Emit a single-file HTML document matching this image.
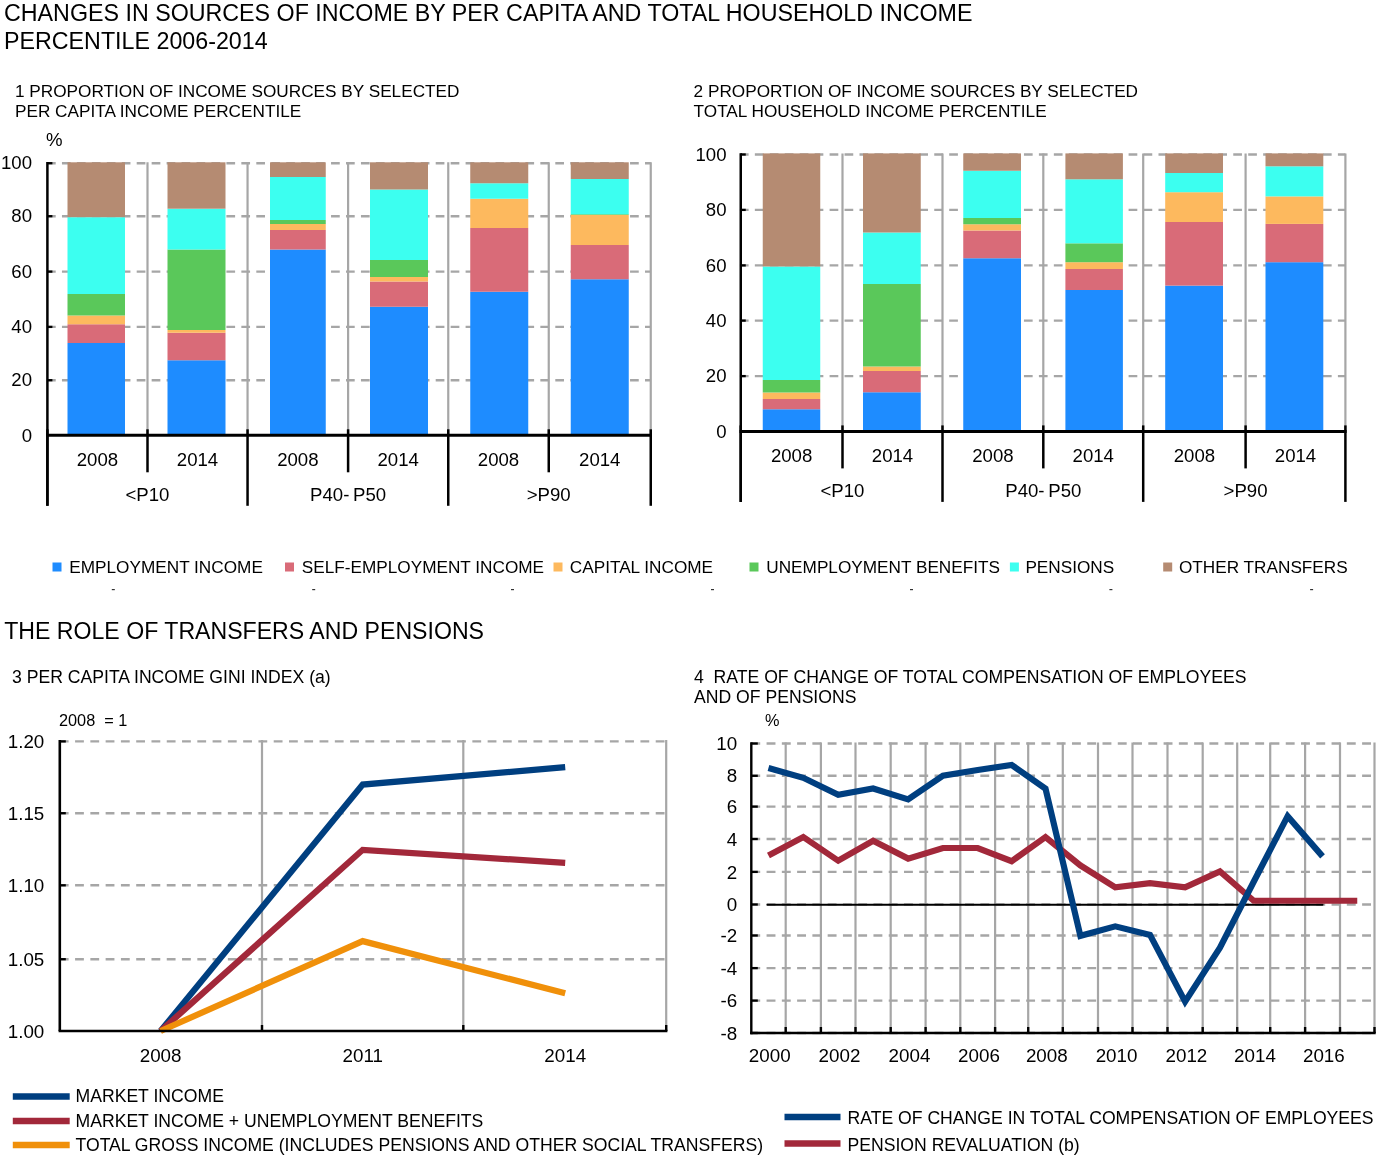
<!DOCTYPE html>
<html><head><meta charset="utf-8"><style>
html,body{margin:0;padding:0;background:#fff;}
svg{display:block;will-change:transform;}
text{font-family:"Liberation Sans", sans-serif;fill:#000;white-space:pre;}
</style></head><body>
<svg width="1377" height="1157" viewBox="0 0 1377 1157">
<rect x="0" y="0" width="1377" height="1157" fill="#fff"/>
<text x="4" y="20.5" font-size="23.25" text-anchor="start">CHANGES IN SOURCES OF INCOME BY PER CAPITA AND TOTAL HOUSEHOLD INCOME</text>
<text x="4" y="48.5" font-size="23.25" text-anchor="start">PERCENTILE 2006-2014</text>
<text x="15" y="97" font-size="17.2" text-anchor="start">1 PROPORTION OF INCOME SOURCES BY SELECTED</text>
<text x="15" y="117" font-size="17.2" text-anchor="start">PER CAPITA INCOME PERCENTILE</text>
<text x="693.6" y="97" font-size="17.2" text-anchor="start">2 PROPORTION OF INCOME SOURCES BY SELECTED</text>
<text x="693.6" y="117" font-size="17.2" text-anchor="start">TOTAL HOUSEHOLD INCOME PERCENTILE</text>
<text x="46" y="145.5" font-size="18.6" text-anchor="start">%</text>
<line x1="47.0" y1="163.2" x2="650.75" y2="163.2" stroke="#a6a6a6" stroke-width="2.4" stroke-dasharray="8.7 6.25"/>
<line x1="47.0" y1="216.2" x2="650.75" y2="216.2" stroke="#a6a6a6" stroke-width="2.4" stroke-dasharray="8.7 6.25"/>
<line x1="47.0" y1="271.6" x2="650.75" y2="271.6" stroke="#a6a6a6" stroke-width="2.4" stroke-dasharray="8.7 6.25"/>
<line x1="47.0" y1="326.9" x2="650.75" y2="326.9" stroke="#a6a6a6" stroke-width="2.4" stroke-dasharray="8.7 6.25"/>
<line x1="47.0" y1="380.2" x2="650.75" y2="380.2" stroke="#a6a6a6" stroke-width="2.4" stroke-dasharray="8.7 6.25"/>
<line x1="147.5" y1="162.3" x2="147.5" y2="435.3" stroke="#a6a6a6" stroke-width="2.2"/>
<line x1="247.55" y1="162.3" x2="247.55" y2="435.3" stroke="#a6a6a6" stroke-width="2.2"/>
<line x1="348.1" y1="162.3" x2="348.1" y2="435.3" stroke="#a6a6a6" stroke-width="2.2"/>
<line x1="448.25" y1="162.3" x2="448.25" y2="435.3" stroke="#a6a6a6" stroke-width="2.2"/>
<line x1="548.75" y1="162.3" x2="548.75" y2="435.3" stroke="#a6a6a6" stroke-width="2.2"/>
<line x1="650.75" y1="162.3" x2="650.75" y2="435.3" stroke="#a6a6a6" stroke-width="2.2"/>
<rect x="67.5" y="343" width="57.5" height="92.30000000000001" fill="#1e8cff"/>
<rect x="67.5" y="324.25" width="57.5" height="18.75" fill="#d96b78"/>
<rect x="67.5" y="315.5" width="57.5" height="8.75" fill="#fdb95e"/>
<rect x="67.5" y="294" width="57.5" height="21.5" fill="#5ac85a"/>
<rect x="67.5" y="217.2" width="57.5" height="76.80000000000001" fill="#3cfff0"/>
<rect x="67.5" y="162.3" width="57.5" height="54.89999999999998" fill="#b58b72"/>
<rect x="167.5" y="360.25" width="58.0" height="75.05000000000001" fill="#1e8cff"/>
<rect x="167.5" y="332.75" width="58.0" height="27.5" fill="#d96b78"/>
<rect x="167.5" y="330" width="58.0" height="2.75" fill="#fdb95e"/>
<rect x="167.5" y="249.5" width="58.0" height="80.5" fill="#5ac85a"/>
<rect x="167.5" y="208.7" width="58.0" height="40.80000000000001" fill="#3cfff0"/>
<rect x="167.5" y="162.3" width="58.0" height="46.39999999999998" fill="#b58b72"/>
<rect x="270" y="249.5" width="55.75" height="185.8" fill="#1e8cff"/>
<rect x="270" y="230" width="55.75" height="19.5" fill="#d96b78"/>
<rect x="270" y="224" width="55.75" height="6" fill="#fdb95e"/>
<rect x="270" y="220" width="55.75" height="4" fill="#5ac85a"/>
<rect x="270" y="177" width="55.75" height="43" fill="#3cfff0"/>
<rect x="270" y="162.3" width="55.75" height="14.699999999999989" fill="#b58b72"/>
<rect x="370" y="306.75" width="58" height="128.55" fill="#1e8cff"/>
<rect x="370" y="281.5" width="58" height="25.25" fill="#d96b78"/>
<rect x="370" y="277" width="58" height="4.5" fill="#fdb95e"/>
<rect x="370" y="260" width="58" height="17" fill="#5ac85a"/>
<rect x="370" y="189.5" width="58" height="70.5" fill="#3cfff0"/>
<rect x="370" y="162.3" width="58" height="27.19999999999999" fill="#b58b72"/>
<rect x="470.25" y="291.75" width="58.0" height="143.55" fill="#1e8cff"/>
<rect x="470.25" y="228" width="58.0" height="63.75" fill="#d96b78"/>
<rect x="470.25" y="198.75" width="58.0" height="29.25" fill="#fdb95e"/>
<rect x="470.25" y="183.25" width="58.0" height="15.5" fill="#3cfff0"/>
<rect x="470.25" y="162.3" width="58.0" height="20.94999999999999" fill="#b58b72"/>
<rect x="570.75" y="279.25" width="58.0" height="156.05" fill="#1e8cff"/>
<rect x="570.75" y="245" width="58.0" height="34.25" fill="#d96b78"/>
<rect x="570.75" y="215" width="58.0" height="30" fill="#fdb95e"/>
<rect x="570.75" y="214.25" width="58.0" height="0.75" fill="#5ac85a"/>
<rect x="570.75" y="179" width="58.0" height="35.25" fill="#3cfff0"/>
<rect x="570.75" y="162.3" width="58.0" height="16.69999999999999" fill="#b58b72"/>
<line x1="47.4" y1="162.10000000000002" x2="47.4" y2="505.8" stroke="#000" stroke-width="2.5"/>
<line x1="47.4" y1="163.2" x2="52.4" y2="163.2" stroke="#000" stroke-width="2.3"/>
<line x1="47.4" y1="216.2" x2="52.4" y2="216.2" stroke="#000" stroke-width="2.3"/>
<line x1="47.4" y1="271.6" x2="52.4" y2="271.6" stroke="#000" stroke-width="2.3"/>
<line x1="47.4" y1="326.9" x2="52.4" y2="326.9" stroke="#000" stroke-width="2.3"/>
<line x1="47.4" y1="380.2" x2="52.4" y2="380.2" stroke="#000" stroke-width="2.3"/>
<line x1="46.199999999999996" y1="435.3" x2="651.95" y2="435.3" stroke="#000" stroke-width="3"/>
<line x1="47.4" y1="429.3" x2="47.4" y2="505.8" stroke="#000" stroke-width="2.5"/>
<line x1="147.5" y1="429.3" x2="147.5" y2="472.3" stroke="#000" stroke-width="2.5"/>
<line x1="247.55" y1="429.3" x2="247.55" y2="505.8" stroke="#000" stroke-width="2.5"/>
<line x1="348.1" y1="429.3" x2="348.1" y2="472.3" stroke="#000" stroke-width="2.5"/>
<line x1="448.25" y1="429.3" x2="448.25" y2="505.8" stroke="#000" stroke-width="2.5"/>
<line x1="548.75" y1="429.3" x2="548.75" y2="472.3" stroke="#000" stroke-width="2.5"/>
<line x1="650.75" y1="429.3" x2="650.75" y2="505.8" stroke="#000" stroke-width="2.5"/>
<text x="32" y="169.39999999999998" font-size="18.6" text-anchor="end">100</text>
<text x="32" y="222.39999999999998" font-size="18.6" text-anchor="end">80</text>
<text x="32" y="277.8" font-size="18.6" text-anchor="end">60</text>
<text x="32" y="333.09999999999997" font-size="18.6" text-anchor="end">40</text>
<text x="32" y="386.4" font-size="18.6" text-anchor="end">20</text>
<text x="32" y="441.5" font-size="18.6" text-anchor="end">0</text>
<text x="97.45" y="466.3" font-size="18.6" text-anchor="middle">2008</text>
<text x="197.525" y="466.3" font-size="18.6" text-anchor="middle">2014</text>
<text x="297.82500000000005" y="466.3" font-size="18.6" text-anchor="middle">2008</text>
<text x="398.175" y="466.3" font-size="18.6" text-anchor="middle">2014</text>
<text x="498.5" y="466.3" font-size="18.6" text-anchor="middle">2008</text>
<text x="599.75" y="466.3" font-size="18.6" text-anchor="middle">2014</text>
<text x="147.5" y="501.3" font-size="18.6" text-anchor="middle">&lt;P10</text>
<text x="348.1" y="501.3" font-size="18.6" text-anchor="middle">P40- P50</text>
<text x="548.75" y="501.3" font-size="18.6" text-anchor="middle">&gt;P90</text>
<line x1="739.9" y1="154.5" x2="1345.4" y2="154.5" stroke="#a6a6a6" stroke-width="2.4" stroke-dasharray="8.7 6.25"/>
<line x1="739.9" y1="209.9" x2="1345.4" y2="209.9" stroke="#a6a6a6" stroke-width="2.4" stroke-dasharray="8.7 6.25"/>
<line x1="739.9" y1="265.4" x2="1345.4" y2="265.4" stroke="#a6a6a6" stroke-width="2.4" stroke-dasharray="8.7 6.25"/>
<line x1="739.9" y1="320.6" x2="1345.4" y2="320.6" stroke="#a6a6a6" stroke-width="2.4" stroke-dasharray="8.7 6.25"/>
<line x1="739.9" y1="376.1" x2="1345.4" y2="376.1" stroke="#a6a6a6" stroke-width="2.4" stroke-dasharray="8.7 6.25"/>
<line x1="842.5" y1="153.5" x2="842.5" y2="431.4" stroke="#a6a6a6" stroke-width="2.2"/>
<line x1="942.5" y1="153.5" x2="942.5" y2="431.4" stroke="#a6a6a6" stroke-width="2.2"/>
<line x1="1043.3" y1="153.5" x2="1043.3" y2="431.4" stroke="#a6a6a6" stroke-width="2.2"/>
<line x1="1143.2" y1="153.5" x2="1143.2" y2="431.4" stroke="#a6a6a6" stroke-width="2.2"/>
<line x1="1245.6" y1="153.5" x2="1245.6" y2="431.4" stroke="#a6a6a6" stroke-width="2.2"/>
<line x1="1345.4" y1="153.5" x2="1345.4" y2="431.4" stroke="#a6a6a6" stroke-width="2.2"/>
<rect x="762.75" y="409.25" width="57.5" height="22.149999999999977" fill="#1e8cff"/>
<rect x="762.75" y="399" width="57.5" height="10.25" fill="#d96b78"/>
<rect x="762.75" y="392.5" width="57.5" height="6.5" fill="#fdb95e"/>
<rect x="762.75" y="380" width="57.5" height="12.5" fill="#5ac85a"/>
<rect x="762.75" y="266.5" width="57.5" height="113.5" fill="#3cfff0"/>
<rect x="762.75" y="153.4" width="57.5" height="113.1" fill="#b58b72"/>
<rect x="863" y="392.25" width="57.75" height="39.14999999999998" fill="#1e8cff"/>
<rect x="863" y="371" width="57.75" height="21.25" fill="#d96b78"/>
<rect x="863" y="366.5" width="57.75" height="4.5" fill="#fdb95e"/>
<rect x="863" y="284" width="57.75" height="82.5" fill="#5ac85a"/>
<rect x="863" y="232.5" width="57.75" height="51.5" fill="#3cfff0"/>
<rect x="863" y="153.4" width="57.75" height="79.1" fill="#b58b72"/>
<rect x="963.25" y="258.25" width="57.75" height="173.14999999999998" fill="#1e8cff"/>
<rect x="963.25" y="230.5" width="57.75" height="27.75" fill="#d96b78"/>
<rect x="963.25" y="224.25" width="57.75" height="6.25" fill="#fdb95e"/>
<rect x="963.25" y="218" width="57.75" height="6.25" fill="#5ac85a"/>
<rect x="963.25" y="170.75" width="57.75" height="47.25" fill="#3cfff0"/>
<rect x="963.25" y="153.4" width="57.75" height="17.349999999999994" fill="#b58b72"/>
<rect x="1065.4" y="290" width="57.5" height="141.39999999999998" fill="#1e8cff"/>
<rect x="1065.4" y="269" width="57.5" height="21" fill="#d96b78"/>
<rect x="1065.4" y="262.2" width="57.5" height="6.800000000000011" fill="#fdb95e"/>
<rect x="1065.4" y="243.3" width="57.5" height="18.899999999999977" fill="#5ac85a"/>
<rect x="1065.4" y="179.3" width="57.5" height="64.0" fill="#3cfff0"/>
<rect x="1065.4" y="153.4" width="57.5" height="25.900000000000006" fill="#b58b72"/>
<rect x="1165.2" y="285.6" width="57.799999999999955" height="145.79999999999995" fill="#1e8cff"/>
<rect x="1165.2" y="222" width="57.799999999999955" height="63.60000000000002" fill="#d96b78"/>
<rect x="1165.2" y="192.2" width="57.799999999999955" height="29.80000000000001" fill="#fdb95e"/>
<rect x="1165.2" y="173" width="57.799999999999955" height="19.19999999999999" fill="#3cfff0"/>
<rect x="1165.2" y="153.4" width="57.799999999999955" height="19.599999999999994" fill="#b58b72"/>
<rect x="1265.5" y="262.2" width="57.799999999999955" height="169.2" fill="#1e8cff"/>
<rect x="1265.5" y="223.9" width="57.799999999999955" height="38.29999999999998" fill="#d96b78"/>
<rect x="1265.5" y="196.4" width="57.799999999999955" height="27.5" fill="#fdb95e"/>
<rect x="1265.5" y="166.3" width="57.799999999999955" height="30.099999999999994" fill="#3cfff0"/>
<rect x="1265.5" y="153.4" width="57.799999999999955" height="12.900000000000006" fill="#b58b72"/>
<line x1="740.75" y1="153.3" x2="740.75" y2="501.9" stroke="#000" stroke-width="2.5"/>
<line x1="740.75" y1="154.5" x2="745.75" y2="154.5" stroke="#000" stroke-width="2.3"/>
<line x1="740.75" y1="209.9" x2="745.75" y2="209.9" stroke="#000" stroke-width="2.3"/>
<line x1="740.75" y1="265.4" x2="745.75" y2="265.4" stroke="#000" stroke-width="2.3"/>
<line x1="740.75" y1="320.6" x2="745.75" y2="320.6" stroke="#000" stroke-width="2.3"/>
<line x1="740.75" y1="376.1" x2="745.75" y2="376.1" stroke="#000" stroke-width="2.3"/>
<line x1="739.55" y1="431.4" x2="1346.6000000000001" y2="431.4" stroke="#000" stroke-width="3"/>
<line x1="740.75" y1="425.4" x2="740.75" y2="501.9" stroke="#000" stroke-width="2.5"/>
<line x1="842.5" y1="425.4" x2="842.5" y2="468.4" stroke="#000" stroke-width="2.5"/>
<line x1="942.5" y1="425.4" x2="942.5" y2="501.9" stroke="#000" stroke-width="2.5"/>
<line x1="1043.3" y1="425.4" x2="1043.3" y2="468.4" stroke="#000" stroke-width="2.5"/>
<line x1="1143.2" y1="425.4" x2="1143.2" y2="501.9" stroke="#000" stroke-width="2.5"/>
<line x1="1245.6" y1="425.4" x2="1245.6" y2="468.4" stroke="#000" stroke-width="2.5"/>
<line x1="1345.4" y1="425.4" x2="1345.4" y2="501.9" stroke="#000" stroke-width="2.5"/>
<text x="726.5" y="160.7" font-size="18.6" text-anchor="end">100</text>
<text x="726.5" y="216.1" font-size="18.6" text-anchor="end">80</text>
<text x="726.5" y="271.59999999999997" font-size="18.6" text-anchor="end">60</text>
<text x="726.5" y="326.8" font-size="18.6" text-anchor="end">40</text>
<text x="726.5" y="382.3" font-size="18.6" text-anchor="end">20</text>
<text x="726.5" y="437.59999999999997" font-size="18.6" text-anchor="end">0</text>
<text x="791.625" y="462.4" font-size="18.6" text-anchor="middle">2008</text>
<text x="892.5" y="462.4" font-size="18.6" text-anchor="middle">2014</text>
<text x="992.9" y="462.4" font-size="18.6" text-anchor="middle">2008</text>
<text x="1093.25" y="462.4" font-size="18.6" text-anchor="middle">2014</text>
<text x="1194.4" y="462.4" font-size="18.6" text-anchor="middle">2008</text>
<text x="1295.5" y="462.4" font-size="18.6" text-anchor="middle">2014</text>
<text x="842.5" y="497.4" font-size="18.6" text-anchor="middle">&lt;P10</text>
<text x="1043.3" y="497.4" font-size="18.6" text-anchor="middle">P40- P50</text>
<text x="1245.6" y="497.4" font-size="18.6" text-anchor="middle">&gt;P90</text>
<rect x="52.5" y="562.5" width="9" height="9" fill="#1e8cff"/>
<text x="69.3" y="573" font-size="17.2" text-anchor="start">EMPLOYMENT INCOME</text>
<rect x="285" y="562.5" width="9" height="9" fill="#d96b78"/>
<text x="301.8" y="573" font-size="17.2" text-anchor="start">SELF-EMPLOYMENT INCOME</text>
<rect x="553.5" y="562.5" width="9" height="9" fill="#fdb95e"/>
<text x="569.8" y="573" font-size="17.2" text-anchor="start">CAPITAL INCOME</text>
<rect x="749.5" y="562.5" width="9" height="9" fill="#5ac85a"/>
<text x="766.3" y="573" font-size="17.2" text-anchor="start">UNEMPLOYMENT BENEFITS</text>
<rect x="1009.9" y="562.5" width="9" height="9" fill="#3cfff0"/>
<text x="1025.3999999999999" y="573" font-size="17.2" text-anchor="start">PENSIONS</text>
<rect x="1163.2" y="562.5" width="9" height="9" fill="#b58b72"/>
<text x="1179.0" y="573" font-size="17.2" text-anchor="start">OTHER TRANSFERS</text>
<rect x="111.8" y="589" width="3" height="1.2" fill="#333"/>
<rect x="312.2" y="589" width="3" height="1.2" fill="#333"/>
<rect x="511.0" y="589" width="3" height="1.2" fill="#333"/>
<rect x="711.0" y="589" width="3" height="1.2" fill="#333"/>
<rect x="910.0" y="589" width="3" height="1.2" fill="#333"/>
<rect x="1109.4" y="589" width="3" height="1.2" fill="#333"/>
<rect x="1310.1" y="589" width="3" height="1.2" fill="#333"/>
<text x="4.2" y="638.8" font-size="23.12" text-anchor="start">THE ROLE OF TRANSFERS AND PENSIONS</text>
<text x="12" y="683" font-size="17.62" text-anchor="start">3 PER CAPITA INCOME GINI INDEX (a)</text>
<text x="59" y="725.8" font-size="16.3" text-anchor="start">2008  = 1</text>
<text x="694" y="682.5" font-size="17.62" text-anchor="start">4  RATE OF CHANGE OF TOTAL COMPENSATION OF EMPLOYEES</text>
<text x="694" y="703.3" font-size="17.62" text-anchor="start">AND OF PENSIONS</text>
<text x="765" y="726.2" font-size="16.3" text-anchor="start">%</text>
<line x1="59.8" y1="741.4" x2="666.2" y2="741.4" stroke="#a6a6a6" stroke-width="2.4" stroke-dasharray="8.8 6.48"/>
<line x1="59.8" y1="813.2" x2="666.2" y2="813.2" stroke="#a6a6a6" stroke-width="2.4" stroke-dasharray="8.8 6.48"/>
<line x1="59.8" y1="885.3" x2="666.2" y2="885.3" stroke="#a6a6a6" stroke-width="2.4" stroke-dasharray="8.8 6.48"/>
<line x1="59.8" y1="959.2" x2="666.2" y2="959.2" stroke="#a6a6a6" stroke-width="2.4" stroke-dasharray="8.8 6.48"/>
<line x1="262.0" y1="740.1" x2="262.0" y2="1031" stroke="#a6a6a6" stroke-width="2.2"/>
<line x1="463.3" y1="740.1" x2="463.3" y2="1031" stroke="#a6a6a6" stroke-width="2.2"/>
<line x1="666.2" y1="740.1" x2="666.2" y2="1031" stroke="#a6a6a6" stroke-width="2.2"/>
<polyline points="160.6,1031.00 362.7,784.59 565.2,767.19" fill="none" stroke="#003f80" stroke-width="6.2" stroke-linejoin="miter"/>
<polyline points="160.6,1031.00 362.7,849.81 565.2,862.86" fill="none" stroke="#a2283a" stroke-width="6.2" stroke-linejoin="miter"/>
<polyline points="160.6,1031.00 362.7,941.13 565.2,993.31" fill="none" stroke="#f0900a" stroke-width="6.2" stroke-linejoin="miter"/>
<line x1="59.8" y1="739.9" x2="59.8" y2="1031" stroke="#000" stroke-width="2.6"/>
<line x1="59.8" y1="741.4" x2="65.8" y2="741.4" stroke="#000" stroke-width="2.3"/>
<line x1="59.8" y1="813.2" x2="65.8" y2="813.2" stroke="#000" stroke-width="2.3"/>
<line x1="59.8" y1="885.3" x2="65.8" y2="885.3" stroke="#000" stroke-width="2.3"/>
<line x1="59.8" y1="959.2" x2="65.8" y2="959.2" stroke="#000" stroke-width="2.3"/>
<line x1="58.599999999999994" y1="1031" x2="667.4000000000001" y2="1031" stroke="#000" stroke-width="2.6"/>
<line x1="262.0" y1="1025" x2="262.0" y2="1031" stroke="#000" stroke-width="2.4"/>
<line x1="463.3" y1="1025" x2="463.3" y2="1031" stroke="#000" stroke-width="2.4"/>
<line x1="666.2" y1="1025" x2="666.2" y2="1031" stroke="#000" stroke-width="2.4"/>
<text x="44.3" y="748.0" font-size="18.8" text-anchor="end">1.20</text>
<text x="44.3" y="819.8000000000001" font-size="18.8" text-anchor="end">1.15</text>
<text x="44.3" y="891.9" font-size="18.8" text-anchor="end">1.10</text>
<text x="44.3" y="965.8000000000001" font-size="18.8" text-anchor="end">1.05</text>
<text x="44.3" y="1037.6" font-size="18.8" text-anchor="end">1.00</text>
<text x="160.6" y="1062" font-size="18.8" text-anchor="middle">2008</text>
<text x="362.7" y="1062" font-size="18.8" text-anchor="middle">2011</text>
<text x="565.2" y="1062" font-size="18.8" text-anchor="middle">2014</text>
<line x1="12.8" y1="1096.5" x2="69.7" y2="1096.5" stroke="#003f80" stroke-width="6.5"/>
<text x="75.5" y="1102.3" font-size="17.62" text-anchor="start">MARKET INCOME</text>
<line x1="12.8" y1="1120.9" x2="69.7" y2="1120.9" stroke="#a2283a" stroke-width="6.5"/>
<text x="75.5" y="1127.3" font-size="17.62" text-anchor="start">MARKET INCOME + UNEMPLOYMENT BENEFITS</text>
<line x1="12.8" y1="1145" x2="69.7" y2="1145" stroke="#f0900a" stroke-width="6.5"/>
<text x="75.5" y="1151.3" font-size="17.62" text-anchor="start">TOTAL GROSS INCOME (INCLUDES PENSIONS AND OTHER SOCIAL TRANSFERS)</text>
<line x1="751.3" y1="743.5" x2="1374.5" y2="743.5" stroke="#a6a6a6" stroke-width="2.4" stroke-dasharray="8.9 6.37"/>
<line x1="751.3" y1="775.8" x2="1374.5" y2="775.8" stroke="#a6a6a6" stroke-width="2.4" stroke-dasharray="8.9 6.37"/>
<line x1="751.3" y1="806.6" x2="1374.5" y2="806.6" stroke="#a6a6a6" stroke-width="2.4" stroke-dasharray="8.9 6.37"/>
<line x1="751.3" y1="839.0" x2="1374.5" y2="839.0" stroke="#a6a6a6" stroke-width="2.4" stroke-dasharray="8.9 6.37"/>
<line x1="751.3" y1="871.9" x2="1374.5" y2="871.9" stroke="#a6a6a6" stroke-width="2.4" stroke-dasharray="8.9 6.37"/>
<line x1="751.3" y1="904.5" x2="1374.5" y2="904.5" stroke="#a6a6a6" stroke-width="2.4" stroke-dasharray="8.9 6.37"/>
<line x1="751.3" y1="935.5" x2="1374.5" y2="935.5" stroke="#a6a6a6" stroke-width="2.4" stroke-dasharray="8.9 6.37"/>
<line x1="751.3" y1="968.1" x2="1374.5" y2="968.1" stroke="#a6a6a6" stroke-width="2.4" stroke-dasharray="8.9 6.37"/>
<line x1="751.3" y1="1000.6" x2="1374.5" y2="1000.6" stroke="#a6a6a6" stroke-width="2.4" stroke-dasharray="8.9 6.37"/>
<line x1="751.3" y1="1033.0" x2="1374.5" y2="1033.0" stroke="#a6a6a6" stroke-width="2.4" stroke-dasharray="8.9 6.37"/>
<line x1="785.7" y1="742.4" x2="785.7" y2="1033.0" stroke="#a6a6a6" stroke-width="2.2"/>
<line x1="820.9" y1="742.4" x2="820.9" y2="1033.0" stroke="#a6a6a6" stroke-width="2.2"/>
<line x1="855.5" y1="742.4" x2="855.5" y2="1033.0" stroke="#a6a6a6" stroke-width="2.2"/>
<line x1="890.7" y1="742.4" x2="890.7" y2="1033.0" stroke="#a6a6a6" stroke-width="2.2"/>
<line x1="925.6" y1="742.4" x2="925.6" y2="1033.0" stroke="#a6a6a6" stroke-width="2.2"/>
<line x1="960.3" y1="742.4" x2="960.3" y2="1033.0" stroke="#a6a6a6" stroke-width="2.2"/>
<line x1="995.1" y1="742.4" x2="995.1" y2="1033.0" stroke="#a6a6a6" stroke-width="2.2"/>
<line x1="1028.2" y1="742.4" x2="1028.2" y2="1033.0" stroke="#a6a6a6" stroke-width="2.2"/>
<line x1="1062.8" y1="742.4" x2="1062.8" y2="1033.0" stroke="#a6a6a6" stroke-width="2.2"/>
<line x1="1098.0" y1="742.4" x2="1098.0" y2="1033.0" stroke="#a6a6a6" stroke-width="2.2"/>
<line x1="1132.5" y1="742.4" x2="1132.5" y2="1033.0" stroke="#a6a6a6" stroke-width="2.2"/>
<line x1="1167.5" y1="742.4" x2="1167.5" y2="1033.0" stroke="#a6a6a6" stroke-width="2.2"/>
<line x1="1202.7" y1="742.4" x2="1202.7" y2="1033.0" stroke="#a6a6a6" stroke-width="2.2"/>
<line x1="1237.2" y1="742.4" x2="1237.2" y2="1033.0" stroke="#a6a6a6" stroke-width="2.2"/>
<line x1="1270.2" y1="742.4" x2="1270.2" y2="1033.0" stroke="#a6a6a6" stroke-width="2.2"/>
<line x1="1305.1" y1="742.4" x2="1305.1" y2="1033.0" stroke="#a6a6a6" stroke-width="2.2"/>
<line x1="1340.0" y1="742.4" x2="1340.0" y2="1033.0" stroke="#a6a6a6" stroke-width="2.2"/>
<line x1="1374.5" y1="742.4" x2="1374.5" y2="1033.0" stroke="#a6a6a6" stroke-width="2.2"/>
<line x1="767.45" y1="904.6999999999999" x2="1322.55" y2="904.6999999999999" stroke="#000" stroke-width="2.0" stroke-linecap="round"/>
<polyline points="768.45,855.55 803.30,837.04 838.20,860.70 873.10,840.74 908.15,858.60 942.95,847.99 977.70,847.99 1011.65,861.18 1045.50,837.04 1080.40,865.36 1115.25,887.41 1150.00,883.06 1185.10,887.41 1219.95,871.32 1253.70,900.76 1287.65,900.76 1322.55,900.76 1357.25,900.76" fill="none" stroke="#a2283a" stroke-width="6.2" stroke-linejoin="miter"/>
<polyline points="768.45,768.02 803.30,777.83 838.20,794.89 873.10,788.45 908.15,799.39 942.95,775.74 977.70,769.95 1011.65,764.96 1045.50,788.61 1080.40,935.84 1115.25,926.34 1150.00,934.87 1185.10,1001.64 1219.95,947.74 1253.70,881.77 1287.65,816.13 1322.55,856.35" fill="none" stroke="#003f80" stroke-width="6.2" stroke-linejoin="miter"/>
<line x1="751.3" y1="742.1999999999999" x2="751.3" y2="1034.2" stroke="#000" stroke-width="2.4"/>
<line x1="751.3" y1="743.5" x2="757.8" y2="743.5" stroke="#000" stroke-width="2.3"/>
<line x1="751.3" y1="775.8" x2="757.8" y2="775.8" stroke="#000" stroke-width="2.3"/>
<line x1="751.3" y1="806.6" x2="757.8" y2="806.6" stroke="#000" stroke-width="2.3"/>
<line x1="751.3" y1="839.0" x2="757.8" y2="839.0" stroke="#000" stroke-width="2.3"/>
<line x1="751.3" y1="871.9" x2="757.8" y2="871.9" stroke="#000" stroke-width="2.3"/>
<line x1="751.3" y1="904.5" x2="757.8" y2="904.5" stroke="#000" stroke-width="2.3"/>
<line x1="751.3" y1="935.5" x2="757.8" y2="935.5" stroke="#000" stroke-width="2.3"/>
<line x1="751.3" y1="968.1" x2="757.8" y2="968.1" stroke="#000" stroke-width="2.3"/>
<line x1="751.3" y1="1000.6" x2="757.8" y2="1000.6" stroke="#000" stroke-width="2.3"/>
<line x1="751.3" y1="1033.0" x2="757.8" y2="1033.0" stroke="#000" stroke-width="2.3"/>
<line x1="750.0999999999999" y1="1033.0" x2="1375.7" y2="1033.0" stroke="#000" stroke-width="2.6"/>
<line x1="785.7" y1="1027.0" x2="785.7" y2="1033.0" stroke="#000" stroke-width="2.4"/>
<line x1="820.9" y1="1027.0" x2="820.9" y2="1033.0" stroke="#000" stroke-width="2.4"/>
<line x1="855.5" y1="1027.0" x2="855.5" y2="1033.0" stroke="#000" stroke-width="2.4"/>
<line x1="890.7" y1="1027.0" x2="890.7" y2="1033.0" stroke="#000" stroke-width="2.4"/>
<line x1="925.6" y1="1027.0" x2="925.6" y2="1033.0" stroke="#000" stroke-width="2.4"/>
<line x1="960.3" y1="1027.0" x2="960.3" y2="1033.0" stroke="#000" stroke-width="2.4"/>
<line x1="995.1" y1="1027.0" x2="995.1" y2="1033.0" stroke="#000" stroke-width="2.4"/>
<line x1="1028.2" y1="1027.0" x2="1028.2" y2="1033.0" stroke="#000" stroke-width="2.4"/>
<line x1="1062.8" y1="1027.0" x2="1062.8" y2="1033.0" stroke="#000" stroke-width="2.4"/>
<line x1="1098.0" y1="1027.0" x2="1098.0" y2="1033.0" stroke="#000" stroke-width="2.4"/>
<line x1="1132.5" y1="1027.0" x2="1132.5" y2="1033.0" stroke="#000" stroke-width="2.4"/>
<line x1="1167.5" y1="1027.0" x2="1167.5" y2="1033.0" stroke="#000" stroke-width="2.4"/>
<line x1="1202.7" y1="1027.0" x2="1202.7" y2="1033.0" stroke="#000" stroke-width="2.4"/>
<line x1="1237.2" y1="1027.0" x2="1237.2" y2="1033.0" stroke="#000" stroke-width="2.4"/>
<line x1="1270.2" y1="1027.0" x2="1270.2" y2="1033.0" stroke="#000" stroke-width="2.4"/>
<line x1="1305.1" y1="1027.0" x2="1305.1" y2="1033.0" stroke="#000" stroke-width="2.4"/>
<line x1="1340.0" y1="1027.0" x2="1340.0" y2="1033.0" stroke="#000" stroke-width="2.4"/>
<line x1="1374.5" y1="1027.0" x2="1374.5" y2="1033.0" stroke="#000" stroke-width="2.4"/>
<text x="737.2" y="750.1" font-size="18.8" text-anchor="end">10</text>
<text x="737.2" y="782.4" font-size="18.8" text-anchor="end">8</text>
<text x="737.2" y="813.2" font-size="18.8" text-anchor="end">6</text>
<text x="737.2" y="845.6" font-size="18.8" text-anchor="end">4</text>
<text x="737.2" y="878.5" font-size="18.8" text-anchor="end">2</text>
<text x="737.2" y="911.1" font-size="18.8" text-anchor="end">0</text>
<text x="737.2" y="942.1" font-size="18.8" text-anchor="end">-2</text>
<text x="737.2" y="974.7" font-size="18.8" text-anchor="end">-4</text>
<text x="737.2" y="1007.2" font-size="18.8" text-anchor="end">-6</text>
<text x="737.2" y="1039.6" font-size="18.8" text-anchor="end">-8</text>
<text x="769.75" y="1062.3" font-size="18.8" text-anchor="middle">2000</text>
<text x="839.5" y="1062.3" font-size="18.8" text-anchor="middle">2002</text>
<text x="909.45" y="1062.3" font-size="18.8" text-anchor="middle">2004</text>
<text x="979.0" y="1062.3" font-size="18.8" text-anchor="middle">2006</text>
<text x="1046.8" y="1062.3" font-size="18.8" text-anchor="middle">2008</text>
<text x="1116.55" y="1062.3" font-size="18.8" text-anchor="middle">2010</text>
<text x="1186.3999999999999" y="1062.3" font-size="18.8" text-anchor="middle">2012</text>
<text x="1255.0" y="1062.3" font-size="18.8" text-anchor="middle">2014</text>
<text x="1323.85" y="1062.3" font-size="18.8" text-anchor="middle">2016</text>
<line x1="784.5" y1="1117" x2="840.5" y2="1117" stroke="#003f80" stroke-width="6.5"/>
<text x="847.5" y="1124" font-size="17.62" text-anchor="start">RATE OF CHANGE IN TOTAL COMPENSATION OF EMPLOYEES</text>
<line x1="784.5" y1="1143.5" x2="840.5" y2="1143.5" stroke="#a2283a" stroke-width="6.5"/>
<text x="847.5" y="1150.8" font-size="17.62" text-anchor="start">PENSION REVALUATION (b)</text>
</svg>
</body></html>
